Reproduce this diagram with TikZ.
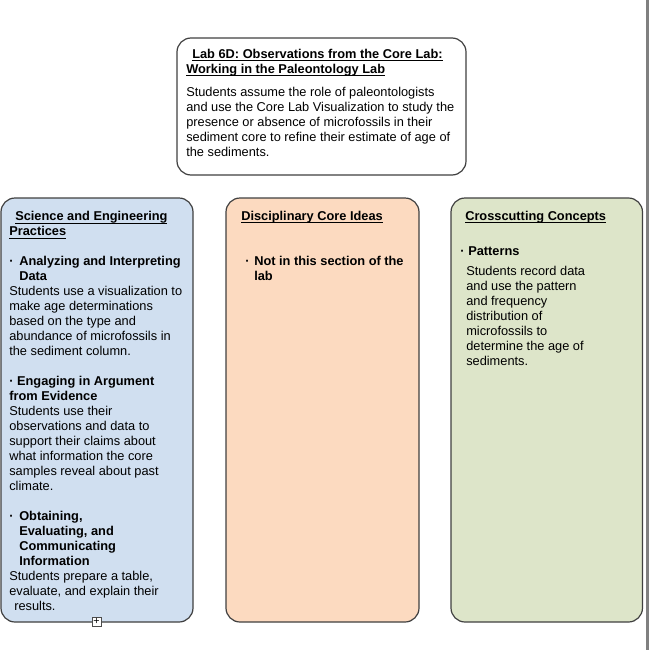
\documentclass[tikz,border=0pt]{standalone}
\usepackage{fontspec}
\setmainfont{Liberation Sans}
\newcommand{\ulinetxt}[1]{\setbox0\hbox{#1}\rlap{\raisebox{-2.1pt}{\rule{\wd0}{0.6pt}}}\box0}
\definecolor{sepblue}{RGB}{208,223,240}
\definecolor{dcipeach}{RGB}{252,218,192}
\definecolor{cccgreen}{RGB}{221,229,201}
\begin{document}
\begin{tikzpicture}[
  x=0.75pt, y=-0.75pt,
  font=\fontsize{9.6}{11.25}\selectfont,
  card/.style={draw=black!75, line width=0.9pt, rounded corners=10.5pt,
               inner sep=0pt, minimum width=144pt, minimum height=318pt},
  txt/.style={anchor=north west, align=left, inner sep=0pt}
]
  \useasboundingbox (0,0) rectangle (649,650);
  %% --- Lab summary on top ---
  \node[card, fill=white, minimum width=216.75pt, minimum height=102.75pt] (lab) at (321.5,106.5) {};
  \node[txt] (labtxt) at (186,47.5) {%
    \strut\hspace*{4.5pt}\ulinetxt{\textbf{Lab 6D: Observations from the Core Lab:}}\\
    \ulinetxt{\textbf{Working in the Paleontology Lab}}\\[6pt]
    Students assume the role of paleontologists\\
    and use the Core Lab Visualization to study the\\
    presence or absence of microfossils in their\\
    sediment core to refine their estimate of age of\\
    the sediments.};
  %% --- Three dimension cards ---
  \node[card, fill=sepblue] (sep) at (97,410) {};
  \node[card, fill=dcipeach, minimum width=144.75pt] (dci) at (322.5,410) {};
  \node[card, fill=cccgreen, minimum width=143.6pt] (ccc) at (546.75,410) {};
  %% --- Science and Engineering Practices ---
  \node[txt] (septxt) at (9,210) {%
    \strut\hspace*{4.5pt}\ulinetxt{\textbf{Science and Engineering}}\\
    \ulinetxt{\textbf{Practices}}\\[11.25pt]
    \textbf{\makebox[7.5pt][l]{·}Analyzing and Interpreting}\\
    \hspace*{7.5pt}\textbf{Data}\\
    Students use a visualization to\\
    make age determinations\\
    based on the type and\\
    abundance of microfossils in\\
    the sediment column.\\[11.25pt]
    \textbf{· Engaging in Argument}\\
    \textbf{from Evidence}\\
    Students use their\\
    observations and data to\\
    support their claims about\\
    what information the core\\
    samples reveal about past\\
    climate.\\[11.25pt]
    \textbf{\makebox[7.5pt][l]{·}Obtaining,}\\
    \hspace*{7.5pt}\textbf{Evaluating, and}\\
    \hspace*{7.5pt}\textbf{Communicating}\\
    \hspace*{7.5pt}\textbf{Information}\\
    Students prepare a table,\\
    evaluate, and explain their\\
    \hspace*{3.75pt}results.};
  %% --- Disciplinary Core Ideas ---
  \node[txt] (dcitxt) at (241,209.5) {%
    \strut\ulinetxt{\textbf{Disciplinary Core Ideas}}\\[22.5pt]
    \hspace*{3pt}\textbf{\makebox[6.75pt][l]{·}Not in this section of the}\\
    \hspace*{9.75pt}\textbf{lab}};
  %% --- Crosscutting Concepts ---
  \node[txt] (ccctxt) at (460,209.5) {%
    \strut\hspace*{3.75pt}\ulinetxt{\textbf{Crosscutting Concepts}}\\[15pt]
    \textbf{\makebox[6pt][l]{·}Patterns}\\[3.75pt]
    \hspace*{4.5pt}Students record data\\
    \hspace*{4.5pt}and use the pattern\\
    \hspace*{4.5pt}and frequency\\
    \hspace*{4.5pt}distribution of\\
    \hspace*{4.5pt}microfossils to\\
    \hspace*{4.5pt}determine the age of\\
    \hspace*{4.5pt}sediments.};
  %% --- expand handle and page edge ---
  \node[draw=black!70, fill=white, line width=0.5pt, inner sep=0pt, minimum size=6.75pt,
        font=\fontsize{8}{8}\selectfont] (expand) at (96.5,621.5) {+};
  \fill[black!50] (646,0) rectangle (649,650);
\end{tikzpicture}
\end{document}
